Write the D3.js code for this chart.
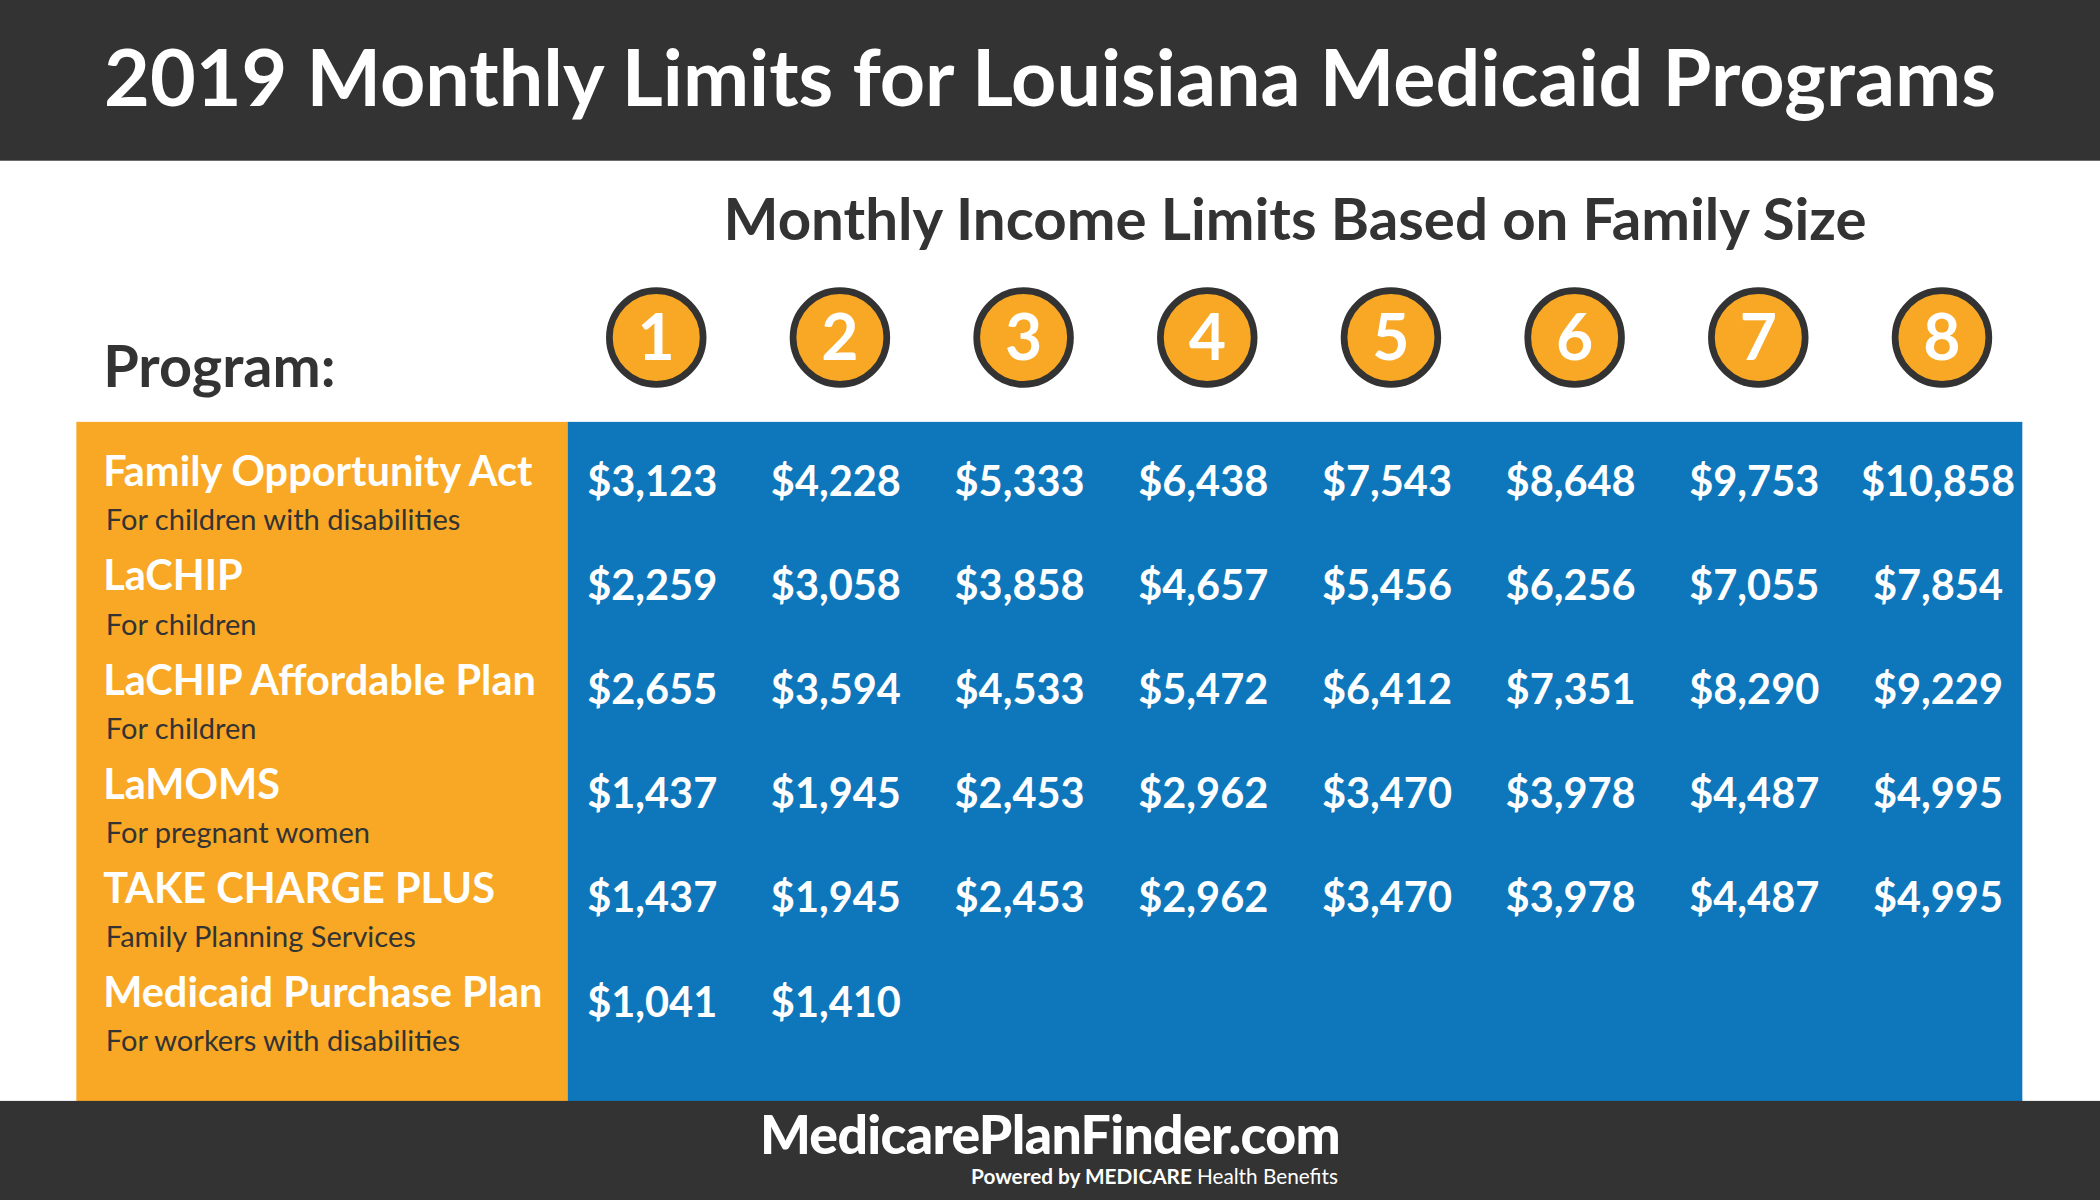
<!DOCTYPE html><html><head><meta charset="utf-8"><script src="https://cdn.jsdelivr.net/npm/d3@7"></script>
<style>body{margin:0;background:#fff}svg{display:block}text{font-family:Lato,"Open Sans",sans-serif}</style></head><body>
<script>
const familySizes=["1","2","3","4","5","6","7","8"];
const programs=["Family Opportunity Act","LaCHIP","LaCHIP Affordable Plan","LaMOMS","TAKE CHARGE PLUS","Medicaid Purchase Plan"];
const descriptions=["For children with disabilities","For children","For children","For pregnant women","Family Planning Services","For workers with disabilities"];
const values=[
[3123,4228,5333,6438,7543,8648,9753,10858],
[2259,3058,3858,4657,5456,6256,7055,7854],
[2655,3594,4533,5472,6412,7351,8290,9229],
[1437,1945,2453,2962,3470,3978,4487,4995],
[1437,1945,2453,2962,3470,3978,4487,4995],
[1041,1410]];
const W=1568,H=896;
const svg=d3.select("body").append("svg").attr("width",2100).attr("height",1200).attr("viewBox",`0 0 ${W} ${H}`);
const x=d3.scalePoint().domain(familySizes).range([490,1450]);
const y=d3.scalePoint().domain(programs).range([370,759]);
const fmt=d3.format("$,");
svg.append("rect").attr("width",W).attr("height",120).attr("fill","#333333");
svg.append("text").attr("x",784).attr("y",79).attr("text-anchor","middle").attr("fill","#fff").attr("font-size",59).attr("font-weight",700).text("2019 Monthly Limits for Louisiana Medicaid Programs");
svg.append("text").attr("x",967).attr("y",179).attr("text-anchor","middle").attr("fill","#333").attr("font-size",43.5).attr("font-weight",700).text("Monthly Income Limits Based on Family Size");
svg.append("text").attr("x",77).attr("y",289).attr("fill","#333").attr("font-size",43).attr("font-weight",700).text("Program:");
const c=svg.selectAll("g.c").data(familySizes).join("g").attr("transform",d=>`translate(${x(d)},252)`);
c.append("circle").attr("r",35).attr("fill","#F9A825").attr("stroke","#333").attr("stroke-width",5);
c.append("text").attr("y",17).attr("text-anchor","middle").attr("fill","#fff").attr("font-size",48).attr("font-weight",700).text(d=>d);
svg.append("rect").attr("x",57).attr("y",315).attr("width",368).attr("height",508).attr("fill","#F9A825");
svg.append("rect").attr("x",424).attr("y",315).attr("width",1086).attr("height",508).attr("fill","#0E77BB");
svg.append("rect").attr("y",822).attr("width",W).attr("height",74).attr("fill","#333333");
programs.forEach((p,i)=>{
  const yy=y(p);
  svg.append("text").attr("x",77).attr("y",yy-7).attr("fill","#fff").attr("font-size",31).attr("font-weight",700).text(p);
  svg.append("text").attr("x",79).attr("y",yy+26).attr("fill","#333").attr("font-size",21.7).text(descriptions[i]);
  svg.selectAll(null).data(values[i]).join("text").attr("x",(d,j)=>x(familySizes[j])-3).attr("y",yy).attr("text-anchor","middle").attr("fill","#fff").attr("font-size",31).attr("font-weight",700).text(d=>fmt(d));
});
svg.append("text").attr("x",784).attr("y",862).attr("text-anchor","middle").attr("fill","#fff").attr("font-size",40).attr("font-weight",900).attr("letter-spacing",-0.5).text("MedicarePlanFinder.com");
const t=svg.append("text").attr("x",862).attr("y",884).attr("text-anchor","middle").attr("fill","#fff").attr("font-size",15.5).attr("font-family","Liberation Sans, Arial");
t.append("tspan").attr("font-weight",700).text("Powered by MEDICARE ");
t.append("tspan").text("Health Benefits");
</script></body></html>
